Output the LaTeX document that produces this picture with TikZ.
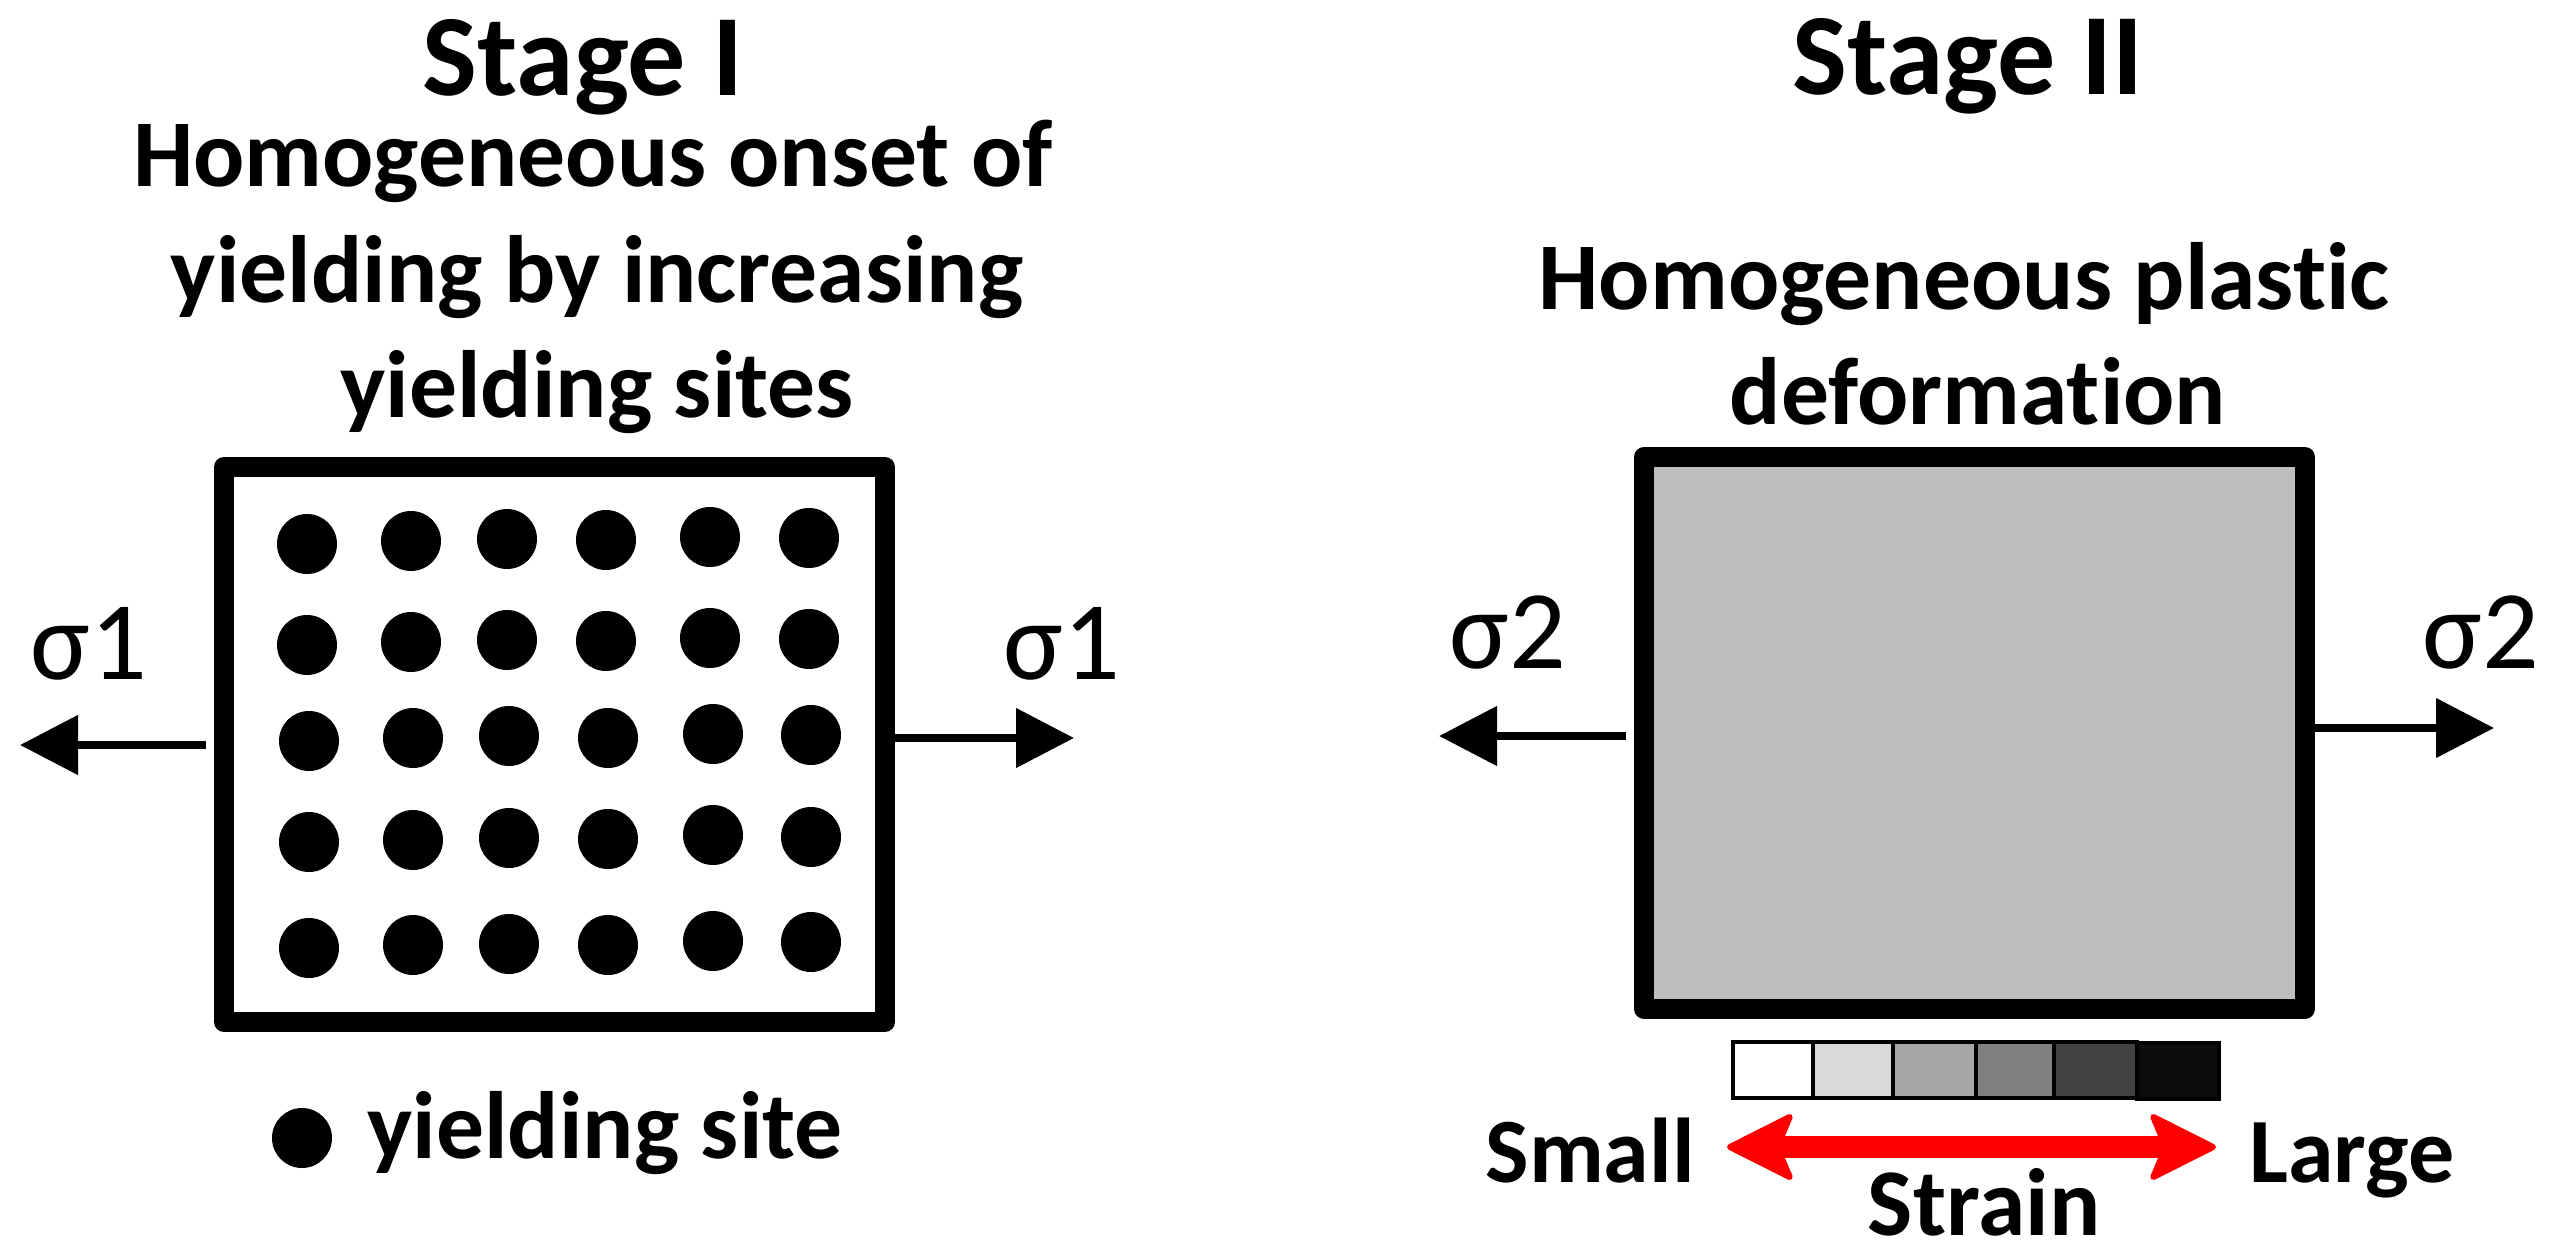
\documentclass[tikz,border=0pt]{standalone}
\usepackage{fontspec}
\setmainfont{Carlito}[Ligatures=NoCommon]
\usetikzlibrary{arrows.meta}
\tikzset{
  head/.style={font=\bfseries\fontsize{58}{62}\selectfont,anchor=base,inner sep=0pt},
  sub/.style={font=\bfseries\fontsize{47.8}{52}\selectfont,anchor=base,inner sep=0pt},
  lab/.style={font=\bfseries\fontsize{46}{50}\selectfont,anchor=base,inner sep=0pt},
  sig/.style={font=\fontsize{56}{60}\selectfont,anchor=base,inner sep=0pt},
  specimen/.style={draw=black,line width=10pt,line join=round,inner sep=0pt,outer sep=0pt},
  dot/.style={circle,fill=black,minimum size=30pt,inner sep=0pt},
  cell/.style={draw=black,line width=2pt,minimum height=28pt,inner sep=0pt,outer sep=0pt},
  load/.style={draw=black,line width=4pt,-{Triangle[length=29pt,width=29pt]}},
  straina/.style={draw=red,line width=11pt,{Stealth[length=36pt,width=36pt,inset=7.5pt,round,line width=3pt,fill=red]}-{Stealth[length=36pt,width=36pt,inset=7.5pt,round,line width=3pt,fill=red]}}
}
\begin{document}
\begin{tikzpicture}[x=0.5pt,y=-0.5pt]
\useasboundingbox (0,0) rectangle (2553,1252);
% titles
\node[head] (t1) at (583,96) {Stage I};
\node[head] (t2) at (1968,95) {Stage II};
\node[sub] (s1a) at (593,186) {Homogeneous onset of};
\node[sub] (s1b) at (597,302) {yielding by increasing};
\node[sub] (s1c) at (597,417) {yielding sites};
\node[sub] (s2a) at (1964,309) {Homogeneous plastic};
\node[sub] (s2b) at (1978,424) {deformation};
% specimens
\node[specimen,fill=white,minimum width=330.5pt,minimum height=277.5pt] (b1) at (554.5,744.5) {};
\node[specimen,fill=black!25.5,minimum width=330.5pt,minimum height=276pt] (b2) at (1974.5,733) {};
% yielding sites
\foreach \n/\x/\y in {
 a/307/544,b/411/541,c/507/539,d/606/540,e/710/537,f/809/538,
 g/307/645,h/411/642,i/507/640,j/606/641,k/710/638,l/809/639,
 m/309/741,n/413/738,o/509/736,p/608/738,q/713/734,r/811/735,
 s/309/842,t/413/840,u/509/838,v/608/839,w/713/835,x/811/837,
 y/309/948,z/413/945,A/509/944,B/608/945,C/713/941,D/811/942}
  \node[dot] (site\n) at (\x,\y) {};
\node[dot] (legend) at (302,1138) {};
\node[sub,anchor=base west] (legendt) at (367,1158) {yielding site};
% loads
\coordinate (l1s) at (206,745); \coordinate (l1e) at (20,745);
\coordinate (r1s) at (895,738); \coordinate (r1e) at (1074,738);
\coordinate (l2s) at (1626,736); \coordinate (l2e) at (1439,736);
\coordinate (r2s) at (2314,728); \coordinate (r2e) at (2494,728);
\draw[load] (l1s) -- (l1e);
\draw[load] (r1s) -- (r1e);
\draw[load] (l2s) -- (l2e);
\draw[load] (r2s) -- (r2e);
\node[sig] (sg1l) at (89,679) {σ1};
\node[sig] (sg1r) at (1062,679) {σ1};
\node[sig] (sg2l) at (1508,668) {σ2};
\node[sig] (sg2r) at (2481,668) {σ2};
% colour scale
\node[cell,fill=white,minimum width=40pt] (c1) at (1773,1070) {};
\node[cell,fill=black!15,minimum width=40pt] (c2) at (1853,1070) {};
\node[cell,fill=black!35,minimum width=41.5pt] (c3) at (1934.5,1070) {};
\node[cell,fill=black!50,minimum width=39pt] (c4) at (2015,1070) {};
\node[cell,fill=black!74,minimum width=41.5pt] (c5) at (2095.5,1070) {};
\node[cell,fill=black!95,minimum width=41pt] (c6) at (2178,1071) {};
% strain arrow
\coordinate (sa) at (1727,1147); \coordinate (sb) at (2216,1147);
\draw[straina] (sa) -- (sb);
\node[lab,anchor=base east] (small) at (1695,1182) {Small};
\node[lab,anchor=base west] (large) at (2249,1182) {Large};
\node[sub] (strain) at (1984,1235) {Strain};
\end{tikzpicture}
\end{document}
